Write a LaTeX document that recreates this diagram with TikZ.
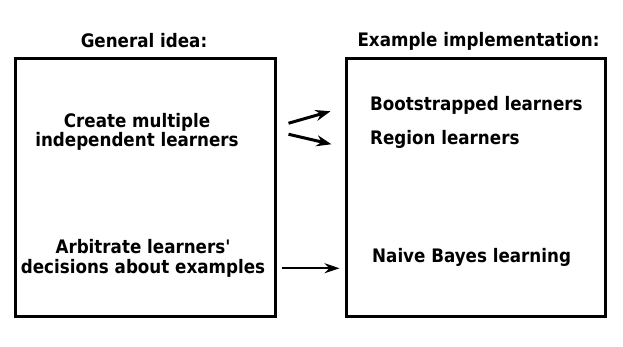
\documentclass[tikz,border=0pt]{standalone}
\usepackage{fontspec}
\setmainfont{DejaVu Sans Condensed}
\usetikzlibrary{arrows.meta}

\begin{document}
\begin{tikzpicture}[x=1pt, y=-1pt,
    panel/.style={rectangle, draw, line width=3pt, inner sep=0pt},
    lbl/.style={font=\bfseries\fontsize{18.6}{19.5}\selectfont, inner sep=0pt},
    heavy/.style={line width=3pt, -{Stealth[length=15pt, width=11pt]}},
    thin/.style={line width=2pt, -{Stealth[length=15pt, width=10pt]}},
]
    \useasboundingbox (0,0) rectangle (623,346);

    \node[lbl, anchor=base] (idea) at (144,47) {General idea:};
    \node[lbl, anchor=base] (impl) at (478.5,46) {Example implementation:};

    \node[panel, minimum width=259.5pt, minimum height=258.5pt] (general) at (145.25,187.25) {};
    \node[panel, minimum width=259pt, minimum height=258.5pt] (example) at (475.5,187.25) {};

    \node[lbl, align=center] (create) at (137,132) {Create multiple\\independent learners};
    \node[lbl, align=center] (arbit) at (143,258.5) {Arbitrate learners\textquotesingle\\decisions about examples};

    \node[lbl, anchor=base west] (boot) at (370,110) {Bootstrapped learners};
    \node[lbl, anchor=base west] (region) at (370,144) {Region learners};
    \node[lbl, anchor=base west] (naive) at (372,262) {Naive Bayes learning};

    \draw[heavy] ([shift={(12,-64)}]general.east) -- ([shift={(-14,-76)}]example.west);
    \draw[heavy] ([shift={(12,-53)}]general.east) -- ([shift={(-13,-43)}]example.west);
    \draw[thin] ([shift={(5,81)}]general.east) -- ([shift={(-5,81)}]example.west);
\end{tikzpicture}
\end{document}
